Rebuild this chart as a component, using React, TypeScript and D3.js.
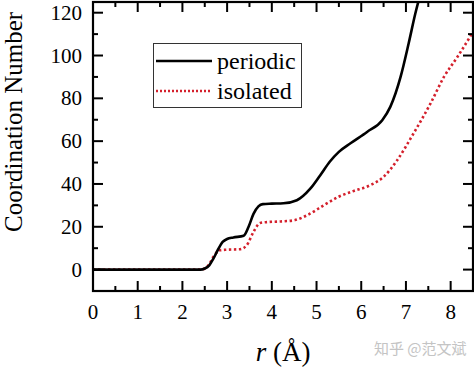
import React from 'react';
import * as d3 from 'd3';

// values: r (Å) and coordination number
const periodicR = [0, 2.4, 2.5, 2.6, 2.69, 2.8, 2.9, 3.0, 3.14, 3.37, 3.48, 3.59, 3.7, 3.8, 4.0, 4.26, 4.56, 4.86, 5.08, 5.3, 5.5, 5.76, 6.13, 6.47, 6.65, 6.88, 7.06, 7.21, 7.3];
const periodicCN = [0, 0, 0.5, 2, 5, 9.5, 12.9, 14.3, 15, 15.8, 20, 26, 29.5, 30.6, 30.8, 31, 32.4, 37.8, 44, 50.5, 55, 59, 64.3, 69.8, 76, 90, 105.6, 119.6, 127];
const isolatedR = [0, 2.4, 2.5, 2.6, 2.69, 2.84, 3.0, 3.29, 3.44, 3.59, 3.74, 3.9, 4.2, 4.49, 4.79, 5.16, 5.49, 5.8, 6.2, 6.5, 6.8, 7.17, 7.55, 7.85, 8.15, 8.5];
const isolatedCN = [0, 0, 0.5, 2.5, 5.9, 9, 9.3, 9.5, 11.4, 17.6, 21.8, 22.2, 22.5, 23, 25.4, 30, 34, 36.5, 39.4, 43.3, 51, 63.6, 77.6, 90, 99.3, 111];

const xTicks = [0, 1, 2, 3, 4, 5, 6, 7, 8];
const yTicks = [0, 20, 40, 60, 80, 100, 120];
const xMinor = [0.5, 1.5, 2.5, 3.5, 4.5, 5.5, 6.5, 7.5];
const yMinor = [-10, 10, 30, 50, 70, 90, 110];

const W = 474, H = 367;
const left = 93, right = 473, top = 2, bottom = 291;
const serif = { fontFamily: "'Liberation Serif', 'DejaVu Serif', serif" };

export default function App() {
  const x = d3.scaleLinear().domain([0, 8.5]).range([left, right]);
  const y = d3.scaleLinear().domain([-10, 125]).range([bottom, top]);

  const line = d3.line<number[]>()
    .x(d => d[0])
    .y(d => d[1])
    .curve(d3.curveMonotoneX);

  const per = line(periodicR.map((r, i) => [x(r), y(periodicCN[i])]));
  const iso = line(isolatedR.map((r, i) => [x(r), y(isolatedCN[i])]));

  const major = 10, minor = 5;

  return (
    <svg width={W} height={H} style={{ position: 'fixed', left: 0, top: 0, background: '#fff' }}>
      <defs>
        <clipPath id="plot">
          <rect x={left} y={top} width={right - left} height={bottom - top} />
        </clipPath>
      </defs>
      <rect width={W} height={H} fill="#fff" />

      <g clipPath="url(#plot)">
        <path d={iso || ''} fill="none" stroke="#d4202c" strokeWidth={2.6} strokeDasharray="2.4 2.6" />
        <path d={per || ''} fill="none" stroke="#000" strokeWidth={2.6} />
      </g>

      {/* ticks, all pointing inwards */}
      <g stroke="#000" strokeWidth={2}>
        {xTicks.map(t => (
          <g key={'xt' + t}>
            <line x1={x(t)} x2={x(t)} y1={bottom} y2={bottom - major} />
            <line x1={x(t)} x2={x(t)} y1={top} y2={top + major} />
          </g>
        ))}
        {xMinor.map(t => (
          <g key={'xm' + t}>
            <line x1={x(t)} x2={x(t)} y1={bottom} y2={bottom - minor} />
            <line x1={x(t)} x2={x(t)} y1={top} y2={top + minor} />
          </g>
        ))}
        {yTicks.map(t => (
          <g key={'yt' + t}>
            <line x1={left} x2={left + major} y1={y(t)} y2={y(t)} />
            <line x1={right} x2={right - major} y1={y(t)} y2={y(t)} />
          </g>
        ))}
        {yMinor.map(t => (
          <g key={'ym' + t}>
            <line x1={left} x2={left + minor} y1={y(t)} y2={y(t)} />
            <line x1={right} x2={right - minor} y1={y(t)} y2={y(t)} />
          </g>
        ))}
      </g>
      <rect x={left} y={top} width={right - left} height={bottom - top} fill="none" stroke="#000" strokeWidth={2.2} />

      <g fontSize={21} fill="#000" style={serif}>
        {xTicks.map(t => (
          <text key={'xl' + t} x={x(t)} y={319} textAnchor="middle" style={serif}>{t}</text>
        ))}
        {yTicks.map(t => (
          <text key={'yl' + t} x={82} y={y(t) + 7} textAnchor="end" style={serif}>{t}</text>
        ))}
      </g>

      <text transform="translate(22,122) rotate(-90)" textAnchor="middle" fontSize={25} style={serif}>Coordination Number</text>
      <text x={283} y={361} textAnchor="middle" fontSize={27} style={serif}>
        <tspan fontStyle="italic">r</tspan> (Å)
      </text>

      {/* legend */}
      <rect x={153.5} y={43.5} width={148} height={64} fill="#fff" stroke="#333" strokeWidth={1} />
      <line x1={156} x2={212} y1={61} y2={61} stroke="#000" strokeWidth={2.6} />
      <line x1={156} x2={212} y1={91} y2={91} stroke="#d4202c" strokeWidth={2.4} strokeDasharray="2 2" />
      <text x={217} y={69} fontSize={24} style={serif}>periodic</text>
      <text x={217} y={99} fontSize={24} style={serif}>isolated</text>

      <text x={374} y={354} fontSize={15} fill="#c4c4c4" style={{ fontFamily: "'Noto Sans CJK SC', sans-serif" }}>知乎 @范文斌</text>
    </svg>
  );
}
